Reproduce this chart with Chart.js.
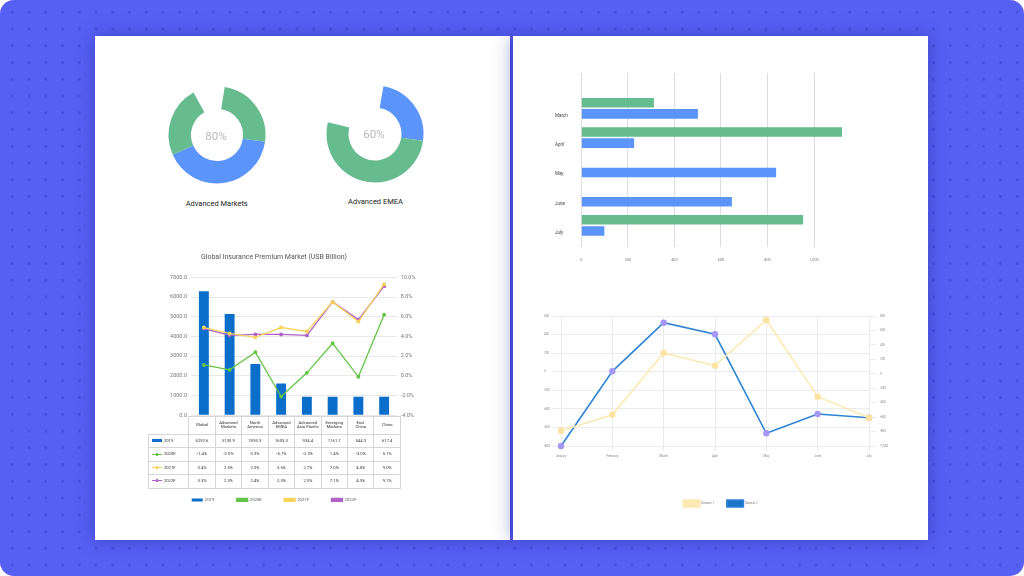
<!DOCTYPE html>
<html lang="en">
<head>
<meta charset="UTF-8">
<meta name="viewport" content="width=device-width, initial-scale=1.0">
<title>Insurance Market Dashboard</title>
<script src="https://cdn.jsdelivr.net/npm/chart.js"></script>
<style>
  html, body { margin: 0; padding: 0; }
  body { width: 1024px; height: 576px; overflow: hidden; position: relative; background: #fff; font-family: Roboto, Arial, sans-serif; }
  .bg { position: absolute; left: 0; top: 0; width: 1024px; height: 576px; border-radius: 14px; background-color: #5760f5;
        background-image: radial-gradient(circle, #4750de 0, #4750de 1.2px, rgba(71,80,222,0) 1.8px);
        background-size: 16.75px 16.75px; background-position: 3.9px 3.9px; }
  .panel { position: absolute; top: 36px; width: 415px; height: 504px; background: #fff; box-shadow: 0 0 18px rgba(30,30,140,0.45); }
  canvas { position: absolute; }
  .pct { position: absolute; width: 60px; margin-left: -30px; text-align: center; font-size: 11.5px; line-height: 12px; color: #b9b9b9; }
  .cap { position: absolute; width: 120px; margin-left: -60px; text-align: center; font-size: 7.5px; line-height: 9px; color: #222; }
  #tbl { position: absolute; left: 148px; top: 415.7px; width: 252px; border-collapse: collapse; table-layout: fixed; font-size: 4.2px; color: #333; }
  #tbl td { border: 1px solid #d6d6d6; padding: 0; text-align: center; line-height: 1.15; white-space: nowrap; }
  #tbl td.lab { text-align: left; padding-left: 3.4px; }
  .mk { display: inline-block; width: 10px; vertical-align: middle; margin-right: 1.5px; }
</style>
</head>
<body>
<div class="bg"></div>
<div class="panel" style="left:95px"></div>
<div class="panel" style="left:513px"></div>

<canvas id="ring1" width="110" height="110" style="left:162px;top:80px"></canvas>
<canvas id="ring2" width="110" height="110" style="left:320px;top:79px"></canvas>
<div class="pct" id="pct1" style="left:216px;top:129.8px"></div>
<div class="pct" id="pct2" style="left:374px;top:128px"></div>
<div class="cap" id="cap1" style="left:216.7px;top:198.8px"></div>
<div class="cap" id="cap2" style="left:375.5px;top:196.5px"></div>

<canvas id="premium" width="292" height="264" style="left:128px;top:248px"></canvas>
<table id="tbl"></table>

<canvas id="months" width="287" height="189" style="left:555px;top:73px"></canvas>
<canvas id="trend" width="353" height="212" style="left:544px;top:305px"></canvas>

<script>
    // ring charts (share of the full circle, first slice is the empty gap)
    const ringTitles = ['Advanced Markets', 'Advanced EMEA'];
    const ringCenters = ['80%', '60%'];
    const marketsRing = [10.6, 24.7, 41.1, 23.6];
    const emeaRing = [23.9, 24.4, 51.7];

    // global premium chart
    const regions = [['Global'], ['Advanced', 'Markets'], ['North', 'America'], ['Advanced', 'EMEA'],
                     ['Advanced', 'Asia Pacific'], ['Emerging', 'Markets'], ['Excl.', 'China'], ['China']];
    const seriesNames = ['2019', '2020E', '2021F', '2022F'];
    const premium2019 = [6292.6, 5130.9, 2593.3, 1603.3, 934.4, 934.4, 934.4, 934.4];
    const growth2020E = [1.1, 0.6, 2.4, -2.1, 0.3, 3.3, -0.1, 6.2];
    const growth2021F = [4.9, 4.3, 3.9, 4.9, 4.5, 7.5, 5.5, 9.3];
    const growth2022F = [4.8, 4.1, 4.2, 4.2, 4.1, 7.5, 5.7, 9.1];
    const table2019 = ['6292.6', '5130.9', '2593.3', '1603.3', '934.4', '1161.7', '544.3', '617.4'];
    const table2020E = ['-1.4%', '-2.0%', '0.3%', '-5.7%', '-2.3%', '1.4%', '-3.0%', '5.1%'];
    const table2021F = ['3.4%', '2.5%', '2.0%', '3.5%', '2.7%', '7.0%', '4.0%', '9.0%'];
    const table2022F = ['3.3%', '2.3%', '2.4%', '2.3%', '2.3%', '7.1%', '4.3%', '9.1%'];

    // horizontal bars
    const barMonths = ['March', 'April', 'May', 'June', 'July'];
    const greenBars = [312, 1120, null, null, 953];
    const blueBars = [501, 227, 837, 647, 99];

    // multi axis line
    const lineMonths = ['January', 'February', 'March', 'April', 'May', 'June', 'July'];
    const dataset1 = [-635, -463, 202, 65, 557, -269, -495];
    const dataset2 = [-1000, 34, 707, 547, -824, -557, -608];

    const GREEN = '#66bb8f', BLUE = '#5b95fc';
    const seriesColors = ['#0b6ecb', '#63c545', '#f7d35c', '#b060c8'];

    Chart.defaults.font.family = "Roboto, 'Open Sans', sans-serif";
    Chart.defaults.animation = false;
    Chart.defaults.events = [];
    Chart.defaults.plugins.tooltip.enabled = false;

    function ring(id, values, colors, rotation, cutout) {
        new Chart(document.getElementById(id), {
            type: 'doughnut',
            data: {
                labels: values.map((v, i) => 'slice ' + i),
                datasets: [{ data: values, backgroundColor: colors, borderWidth: 0 }]
            },
            options: {
                responsive: false,
                rotation: rotation,
                radius: 48.5,
                cutout: cutout,
                plugins: { legend: { display: false } }
            }
        });
    }
    ring('ring1', marketsRing, ['rgba(0,0,0,0)', GREEN, BLUE, GREEN], 331, 29.5);
    ring('ring2', emeaRing, ['rgba(0,0,0,0)', BLUE, GREEN], 284, 30);
    document.getElementById('pct1').textContent = ringCenters[0];
    document.getElementById('pct2').textContent = ringCenters[1];
    document.getElementById('cap1').textContent = ringTitles[0];
    document.getElementById('cap2').textContent = ringTitles[1];

    const lineSet = (i, data) => ({
        type: 'line', label: seriesNames[i], data: data, yAxisID: 'y1', order: 0,
        borderColor: seriesColors[i], backgroundColor: seriesColors[i],
        borderWidth: 1.3, pointRadius: 1.3, tension: 0
    });

    new Chart(document.getElementById('premium'), {
        data: {
            labels: regions,
            datasets: [
                { type: 'bar', label: seriesNames[0], data: premium2019, yAxisID: 'y', order: 1,
                  backgroundColor: seriesColors[0], categoryPercentage: 0.8, barPercentage: 0.48 },
                lineSet(1, growth2020E),
                lineSet(2, growth2021F),
                lineSet(3, growth2022F)
            ]
        },
        options: {
            responsive: false,
            scales: {
                x: {
                    ticks: { display: false },
                    grid: { display: false },
                    border: { display: false },
                    afterFit: s => { s.height = 60.1; }
                },
                y: {
                    position: 'left', min: 0, max: 7000,
                    ticks: { stepSize: 1000, padding: 4, color: '#777', font: { size: 5.5 }, callback: v => v.toFixed(1) },
                    grid: { color: '#e8e8e8', drawTicks: false },
                    border: { display: false },
                    afterFit: s => { s.width = 63; }
                },
                y1: {
                    position: 'right', min: -4, max: 10,
                    ticks: { stepSize: 2, padding: 3.7, color: '#777', font: { size: 5.5 }, callback: v => v.toFixed(1) + '%' },
                    grid: { drawOnChartArea: false, drawTicks: false },
                    border: { display: false },
                    afterFit: s => { s.width = 23; }
                }
            },
            plugins: {
                title: {
                    display: true,
                    text: 'Global Insurance Premium Market (USB Billion)',
                    color: '#555',
                    font: { size: 7, weight: 'normal' },
                    padding: { top: 5.5, bottom: 15.4 }
                },
                legend: {
                    position: 'bottom',
                    labels: {
                        boxWidth: 11, boxHeight: 3, padding: 22.5, color: '#555', font: { size: 4.2 },
                        sort: (a, b) => a.datasetIndex - b.datasetIndex
                    }
                }
            }
        }
    });

    // data table under the premium chart
    const tableValues = [table2019, table2020E, table2021F, table2022F];
    let html = '<colgroup><col style="width:40.3px">' + regions.map(() => '<col style="width:26.46px">').join('') + '</colgroup>';
    html += '<tr style="height:18.3px"><td style="border-top:none;border-left:none"></td>' +
            regions.map(r => '<td>' + r.join('<br>') + '</td>').join('') + '</tr>';
    seriesNames.forEach((name, i) => {
        const c = seriesColors[i];
        const mark = i === 0
            ? '<span class="mk" style="height:2.5px;background:' + c + '"></span>'
            : '<span class="mk" style="height:3px;background:radial-gradient(circle,' + c + ' 0 1.2px,transparent 1.4px),linear-gradient(' + c + ',' + c + ') center / 100% 1px no-repeat"></span>';
        html += '<tr style="height:13.4px"><td class="lab">' + mark + name + '</td>' +
                tableValues[i].map(v => '<td>' + v + '</td>').join('') + '</tr>';
    });
    document.getElementById('tbl').innerHTML = html;

    new Chart(document.getElementById('months'), {
        type: 'bar',
        data: {
            labels: barMonths,
            datasets: [
                { label: 'Dataset 1', data: greenBars, backgroundColor: GREEN },
                { label: 'Dataset 2', data: blueBars, backgroundColor: BLUE }
            ]
        },
        options: {
            indexAxis: 'y',
            responsive: false,
            datasets: { bar: { categoryPercentage: 0.76, barPercentage: 0.86 } },
            scales: {
                x: {
                    position: 'bottom', min: 0, max: 1120,
                    ticks: { stepSize: 200, includeBounds: false, padding: 10.4, color: '#777', font: { size: 3.8 } },
                    grid: { color: '#dedede', tickLength: 7 },
                    border: { display: false },
                    afterFit: s => { s.height = 22; }
                },
                x2: {
                    type: 'linear', position: 'top', min: 0, max: 1120,
                    ticks: { stepSize: 200, includeBounds: false, display: false },
                    grid: { color: '#dedede', tickLength: 20.7, drawOnChartArea: false },
                    border: { display: false }
                },
                y: {
                    ticks: { crossAlign: 'far', labelOffset: 7.3, color: '#444', font: { size: 4.5 } },
                    grid: { display: false },
                    border: { display: false },
                    afterFit: s => { s.width = 26.3; }
                }
            },
            plugins: { legend: { display: false } }
        }
    });

    new Chart(document.getElementById('trend'), {
        type: 'line',
        data: {
            labels: lineMonths,
            datasets: [
                { label: 'Dataset 1', data: dataset1, yAxisID: 'y', clip: false,
                  borderColor: '#fde9b3', backgroundColor: '#fde9b3',
                  pointBackgroundColor: '#fde2a0', pointBorderColor: '#fde2a0',
                  pointRadius: 2.4, borderWidth: 1.6, tension: 0 },
                { label: 'Dataset 2', data: dataset2, yAxisID: 'y1', clip: false,
                  borderColor: '#2e84d4', backgroundColor: '#1c74c9',
                  pointBackgroundColor: '#a597f7', pointBorderColor: '#a597f7',
                  pointRadius: 2.4, borderWidth: 1.6, tension: 0 }
            ]
        },
        options: {
            responsive: false,
            layout: { padding: { top: 11 } },
            scales: {
                x: {
                    ticks: { padding: 3.6, color: '#888', font: { size: 3 } },
                    grid: { color: '#ebebeb', tickLength: 5 },
                    border: { display: false },
                    afterFit: s => { s.height = 41.25; }
                },
                y: {
                    position: 'left', min: -800, max: 600,
                    ticks: { stepSize: 200, padding: 3, crossAlign: 'far', color: '#888', font: { size: 3 } },
                    grid: { color: '#ebebeb', tickLength: 9 },
                    border: { display: false },
                    afterFit: s => { s.width = 17; }
                },
                y1: {
                    position: 'right', min: -1000, max: 800,
                    ticks: { stepSize: 200, padding: 4, color: '#888', font: { size: 3 } },
                    grid: { color: '#ebebeb', tickLength: 7, drawOnChartArea: false },
                    border: { display: false },
                    afterFit: s => { s.width = 28; }
                }
            },
            plugins: {
                legend: {
                    position: 'bottom',
                    labels: { boxWidth: 16.5, boxHeight: 7, padding: 12.75, color: '#888', font: { size: 3 } }
                }
            }
        }
    });
</script>
</body>
</html>
